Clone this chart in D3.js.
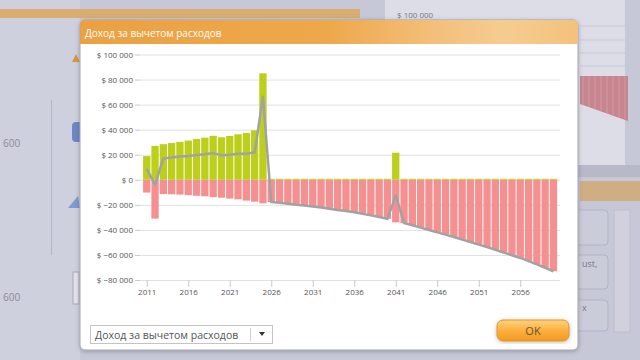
<!DOCTYPE html>
<html><head><meta charset="utf-8">
<script src="https://cdn.jsdelivr.net/npm/d3@7"></script>
<style>html,body{margin:0;padding:0;background:#c5c6d6;}svg{display:block;}</style>
</head><body>
<svg id="c" width="640" height="360"></svg>
<script>
const years = [2011,2012,2013,2014,2015,2016,2017,2018,2019,2020,2021,2022,2023,2024,2025,2026,2027,2028,2029,2030,
2031,2032,2033,2034,2035,2036,2037,2038,2039,2040,2041,2042,2043,2044,2045,2046,2047,2048,2049,2050,
2051,2052,2053,2054,2055,2056,2057,2058,2059,2060];
const income = [18900,27100,28400,29300,30300,31300,32500,33600,35100,33900,35000,36300,37400,39500,85000,
0,0,0,0,0,0,0,0,0,0,0,0,0,0,0,
21600,
0,0,0,0,0,0,0,0,0,0,0,0,0,0,0,0,0,0,0];
const expense = [-10200,-31000,-11400,-11600,-11800,-12300,-12800,-13200,-13800,-14300,-15000,-15600,-16600,-17500,-18800,
-17800,-18400,-19100,-19900,-20600,-21300,-22200,-23200,-24100,-25000,-26000,-27200,-28400,-29700,-31200,
-34000,
-34600,-36300,-38200,-40100,-42000,-43800,-45700,-47700,-49700,-51800,-53800,-55900,-58000,-60200,-62400,-64900,-67500,-70200,-73000];
const yTicks = [100000,80000,60000,40000,20000,0,-20000,-40000,-60000,-80000];
const xTickYears = [2011,2016,2021,2026,2031,2036,2041,2046,2051,2056];
const title = "Доход за вычетом расходов";

const svg = d3.select("#c");
const defs = svg.append("defs");

// ---------- background app (dimmed) ----------
const bg = svg.append("g");
bg.append("rect").attr("x",0).attr("y",0).attr("width",640).attr("height",360).attr("fill","#c6c7d7");
bg.append("rect").attr("x",0).attr("y",0).attr("width",80).attr("height",360).attr("fill","#cfd0dd");
bg.append("rect").attr("x",0).attr("y",9).attr("width",360).attr("height",9).attr("fill","#d9ad6f");
bg.append("line").attr("x1",51.5).attr("x2",51.5).attr("y1",100).attr("y2",255).attr("stroke","#b4b5c4");
bg.append("text").attr("x",3).attr("y",147).attr("font-family","Open Sans").attr("font-size",10).attr("fill","#8a8b99").text("600");
bg.append("text").attr("x",3).attr("y",301).attr("font-family","Open Sans").attr("font-size",10).attr("fill","#8a8b99").text("600");
bg.append("path").attr("d","M72,62 L76,54 L80,62 Z").attr("fill","#d59a3e");
bg.append("rect").attr("x",72).attr("y",122).attr("width",10).attr("height",20).attr("rx",4).attr("fill","#6f86c4");
bg.append("path").attr("d","M68,208 L78,196 L80,208 Z").attr("fill","#7d9ad0");
bg.append("rect").attr("x",73).attr("y",272).attr("width",6).attr("height",32).attr("fill","#e2e3ea").attr("stroke","#a6a7b6");
// right window
bg.append("rect").attr("x",385).attr("y",-5).attr("width",240).attr("height",170).attr("fill","#dcdde7");
bg.append("text").attr("x",397).attr("y",18).attr("font-family","Open Sans").attr("font-size",8).attr("fill","#777887").text("$ 100 000");
[26,40,53,66].forEach(v=>bg.append("line").attr("x1",580).attr("x2",625).attr("y1",v).attr("y2",v).attr("stroke","#c8c9d5"));
bg.append("path").attr("d","M580,76 L628,76 L628,121 L580,104 Z").attr("fill","#c7868f");
for(let i=0;i<8;i++) bg.append("line").attr("x1",583+i*6).attr("x2",583+i*6).attr("y1",76).attr("y2",105+i*2).attr("stroke","#d29aa2").attr("stroke-width",1);
bg.append("rect").attr("x",385).attr("y",165).attr("width",255).attr("height",12).attr("fill","#b7b8c8");
bg.append("rect").attr("x",580).attr("y",181).attr("width",60).attr("height",20).attr("fill","#cfae83");
[[210,245],[255,289],[300,331]].forEach(r=>bg.append("rect").attr("x",572).attr("y",r[0]).attr("width",36).attr("height",r[1]-r[0]).attr("rx",4).attr("fill","#cbccd9").attr("stroke","#b2b3c3"));
bg.append("rect").attr("x",614).attr("y",210).attr("width",16).attr("height",122).attr("fill","#d0d1dc").attr("stroke","#bdbecc");
bg.append("text").attr("x",582).attr("y",267).attr("font-family","Open Sans").attr("font-size",9).attr("fill","#777887").text("ust,");
bg.append("text").attr("x",582).attr("y",311).attr("font-family","Open Sans").attr("font-size",9).attr("fill","#777887").text("x");

// ---------- dialog ----------
const f = defs.append("filter").attr("id","sh").attr("x","-10%").attr("y","-10%").attr("width","120%").attr("height","120%");
f.append("feDropShadow").attr("dx",0).attr("dy",1).attr("stdDeviation",2).attr("flood-color","#000").attr("flood-opacity",0.25);
svg.append("rect").attr("x",80).attr("y",20).attr("width",498).attr("height",330).attr("rx",5)
  .attr("fill","#fff").attr("stroke","#a3a4b2").attr("filter","url(#sh)");
const tg = defs.append("linearGradient").attr("id","tg").attr("x1",0).attr("x2",1).attr("y1",0).attr("y2",0);
[[0,"#eba142"],[0.5,"#eea84c"],[0.72,"#f3c07c"],[0.85,"#f5cc90"],[1,"#f3c27c"]].forEach(s=>tg.append("stop").attr("offset",s[0]).attr("stop-color",s[1]));
svg.append("path").attr("d","M80,44 L80,25 Q80,20 85,20 L573,20 Q578,20 578,25 L578,44 Z").attr("fill","url(#tg)");
svg.append("text").attr("x",85).attr("y",36.5).attr("font-family","Open Sans").attr("font-size",10)
  .attr("fill","#fff").text(title);

// ---------- chart ----------
const y = d3.scaleLinear().domain([-80000,100000]).range([280,54.5]);
const x = d3.scaleBand().domain(years).range([142.6,557.6]).paddingInner(0.12).paddingOuter(0.06);
const fmt = v => "$ " + d3.format(",")(v).replace(/,/g," ");

const gy = svg.append("g").attr("transform","translate(140,0)")
  .call(d3.axisLeft(y).tickValues(yTicks).tickSize(5).tickPadding(2).tickFormat(fmt));
gy.select(".domain").remove();
gy.selectAll(".tick line").attr("stroke","#c9c9c9");
gy.selectAll(".tick text").attr("font-family","Open Sans").attr("font-size",8).attr("fill","#555");
svg.append("g").selectAll("line").data(yTicks).join("line")
  .attr("x1",140).attr("x2",560).attr("y1",d=>y(d)+0.5).attr("y2",d=>y(d)+0.5)
  .attr("stroke","#e1e1e1").attr("stroke-width",1);

const xc = d => x(d) + x.bandwidth()/2;
const gx = svg.append("g").attr("transform",`translate(0,${y(-80000)})`)
  .call(d3.axisBottom(d3.scalePoint().domain(years).range([xc(2011),xc(2060)]))
    .tickValues(xTickYears).tickSize(7).tickPadding(2));
gx.select(".domain").remove();
gx.selectAll(".tick line").attr("stroke","#c9c9c9");
gx.selectAll(".tick text").attr("font-family","Open Sans").attr("font-size",8).attr("fill","#555");

const data = years.map((yr,i)=>({yr, inc:income[i], exp:expense[i], net:income[i]+expense[i]}));
svg.append("g").selectAll("rect").data(data).join("rect")
  .attr("x",d=>x(d.yr)).attr("width",x.bandwidth())
  .attr("y",y(0)).attr("height",d=>y(d.exp)-y(0)).attr("fill","#f68f8f");
svg.append("g").selectAll("rect").data(data).join("rect")
  .attr("x",d=>x(d.yr)).attr("width",x.bandwidth())
  .attr("y",d=>Math.min(y(d.inc), y(0)-1)).attr("height",d=>Math.max(y(0)-y(d.inc),1)).attr("fill","#bccf1a");
svg.append("path").datum(data)
  .attr("d",d3.line().x(d=>xc(d.yr)).y(d=>y(d.net)))
  .attr("fill","none").attr("stroke","#a2a2a2").attr("stroke-width",2.5).attr("stroke-linejoin","round");

// ---------- bottom controls ----------
svg.append("rect").attr("x",90.5).attr("y",325.5).attr("width",182).attr("height",18).attr("fill","#fff").attr("stroke","#c4c4c4");
svg.append("line").attr("x1",250.5).attr("x2",250.5).attr("y1",328).attr("y2",341).attr("stroke","#cfcfcf");
svg.append("path").attr("d","M259,332 L265,332 L262,336 Z").attr("fill","#333");
svg.append("text").attr("x",95).attr("y",338.5).attr("font-family","Open Sans").attr("font-size",10.5).attr("fill","#555").text(title);
const bgd = defs.append("linearGradient").attr("id","bt").attr("x1",0).attr("x2",0).attr("y1",0).attr("y2",1);
[[0,"#ffd27a"],[0.5,"#fbb040"],[1,"#f39a1f"]].forEach(s=>bgd.append("stop").attr("offset",s[0]).attr("stop-color",s[1]));
svg.append("rect").attr("x",497).attr("y",320).attr("width",72).attr("height",21).attr("rx",6)
  .attr("fill","url(#bt)").attr("stroke","#dd9233").attr("filter","url(#sh)");
svg.append("text").attr("x",533).attr("y",334.5).attr("text-anchor","middle").attr("font-family","Open Sans")
  .attr("font-size",11).attr("fill","#6a5232").text("OK");
</script>
</body></html>
